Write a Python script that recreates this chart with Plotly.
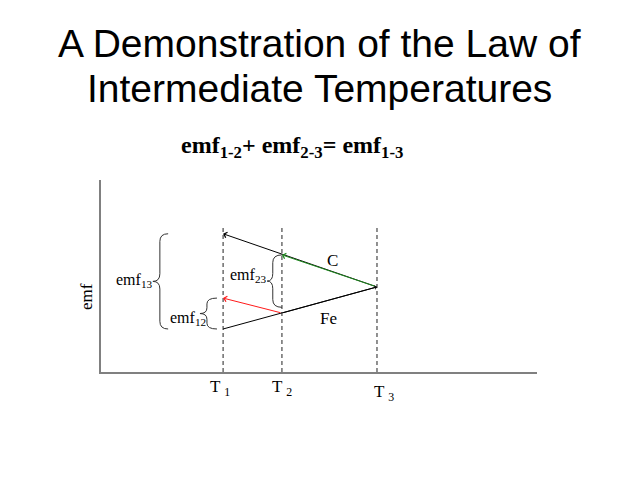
import plotly.graph_objects as go

W, H = 638, 478

# temperatures of the junctions and emf readings (chart units, 0-100)
temps = [28.0, 41.5, 63.3]
temp_labels = ["T <sub>1</sub>", "T <sub>2</sub>", "T <sub>3</sub>"]
emf_c = [72.0, 61.0, 44.3]
emf_fe = [22.4, 30.7, 44.3]
emf_shift = 38.5  # emf12 carried up to T1
guide_top = 75.0

SERIF = "Liberation Serif"
SANS = "Liberation Sans"


def px(x):
    return x / W


def py(y):
    return 1 - y / H


def brace(x_flat, x_end, x_tip, y_low, y_high, r):
    ym = (y_low + y_high) / 2
    return (f"M {x_end},{y_high} Q {x_flat},{y_high} {x_flat},{y_high - r} "
            f"L {x_flat},{ym + r} Q {x_flat},{ym} {x_tip},{ym} "
            f"Q {x_flat},{ym} {x_flat},{ym - r} "
            f"L {x_flat},{y_low + r} Q {x_flat},{y_low} {x_end},{y_low}")


def label(txt, x, y, size, family=SERIF, **kw):
    fig.add_annotation(text=txt, x=px(x), y=py(y), xref="paper", yref="paper",
                       xanchor="center", yanchor="middle", showarrow=False,
                       font=dict(family=family, size=size, color="black"), **kw)


fig = go.Figure()

# dashed temperature guides
gx, gy = [], []
for t in temps:
    gx += [t, t, None]
    gy += [0, guide_top, None]
fig.add_trace(go.Scatter(x=gx, y=gy, mode="lines",
                         line=dict(color="#222222", width=1, dash="4px,3px"),
                         hoverinfo="skip"))

# Fe line
fig.add_trace(go.Scatter(x=temps, y=emf_fe, mode="lines",
                         line=dict(color="black", width=1), hoverinfo="skip"))

arrows = [
    # C line, back to T1
    dict(x=temps[0], y=emf_c[0], ax=temps[2], ay=emf_c[2], arrowcolor="black", arrowsize=1.1),
    # C segment T3 -> T2
    dict(x=temps[1], y=emf_c[1], ax=temps[2], ay=emf_c[2], arrowcolor="#1e8a1e", arrowsize=1.1),
    # shifted emf12
    dict(x=temps[0], y=emf_shift, ax=temps[1], ay=emf_fe[1], arrowcolor="#ff1a1a", arrowsize=1.1),
    # Fe tip at T3
    dict(x=temps[2], y=emf_fe[2], ax=temps[1], ay=emf_fe[1], arrowcolor="black", arrowsize=0.7),
]
for a in arrows:
    fig.add_annotation(text="", xref="x", yref="y", axref="x", ayref="y",
                       showarrow=True, arrowhead=4, arrowwidth=1,
                       standoff=0, startstandoff=0, **a)

# braces
brace_style = dict(color="#333333", width=1)
fig.add_shape(type="path", xref="x", yref="y", line=brace_style,
              path=brace(13.5, 15.4, 11.9, emf_fe[0], emf_c[0], 4))
fig.add_shape(type="path", xref="x", yref="y", line=brace_style,
              path=brace(24.3, 26.6, 22.7, emf_fe[0], emf_shift, 3))
fig.add_shape(type="path", xref="x", yref="y", line=brace_style,
              path=brace(39.4, temps[1], 38.1, emf_fe[1] + 3, emf_c[1], 4))

# titles
label("A Demonstration of the Law of", 319, 43, 39, SANS)
label("Intermediate Temperatures", 319, 88, 39, SANS)
label("<b>emf<sub>1-2</sub>+ emf<sub>2-3</sub>= emf<sub>1-3</sub></b>", 292, 147, 24)

# labels
label("emf<sub>13</sub>", 134, 280, 16)
label("emf<sub>12</sub>", 188, 318, 16)
label("emf<sub>23</sub>", 248, 275, 16)
label("C", 332, 260, 17)
label("Fe", 328, 318, 17)
label("emf", 86, 297, 17, textangle=-90)

for t, lab, shift, yy in zip(temps, temp_labels, [-3, 0, 7], [388, 388, 393]):
    fig.add_annotation(text=lab, x=t, y=py(yy), xref="x", yref="paper",
                       xanchor="center", yanchor="middle",
                       xshift=shift, showarrow=False,
                       font=dict(family=SERIF, size=17, color="black"))

axis_style = dict(range=[0, 100], showline=True, linecolor="#808080", linewidth=2,
                  showgrid=False, zeroline=False, showticklabels=False, ticks="")
fig.update_xaxes(domain=[px(101), px(537)], **axis_style)
fig.update_yaxes(domain=[py(372), py(180)], **axis_style)

fig.update_layout(width=W, height=H, margin=dict(l=0, r=0, t=0, b=0),
                  plot_bgcolor="white", paper_bgcolor="white",
                  showlegend=False, hovermode=False)

fig.write_html("out.html", config={"displayModeBar": False},
               post_script="document.body.style.margin='0';")
